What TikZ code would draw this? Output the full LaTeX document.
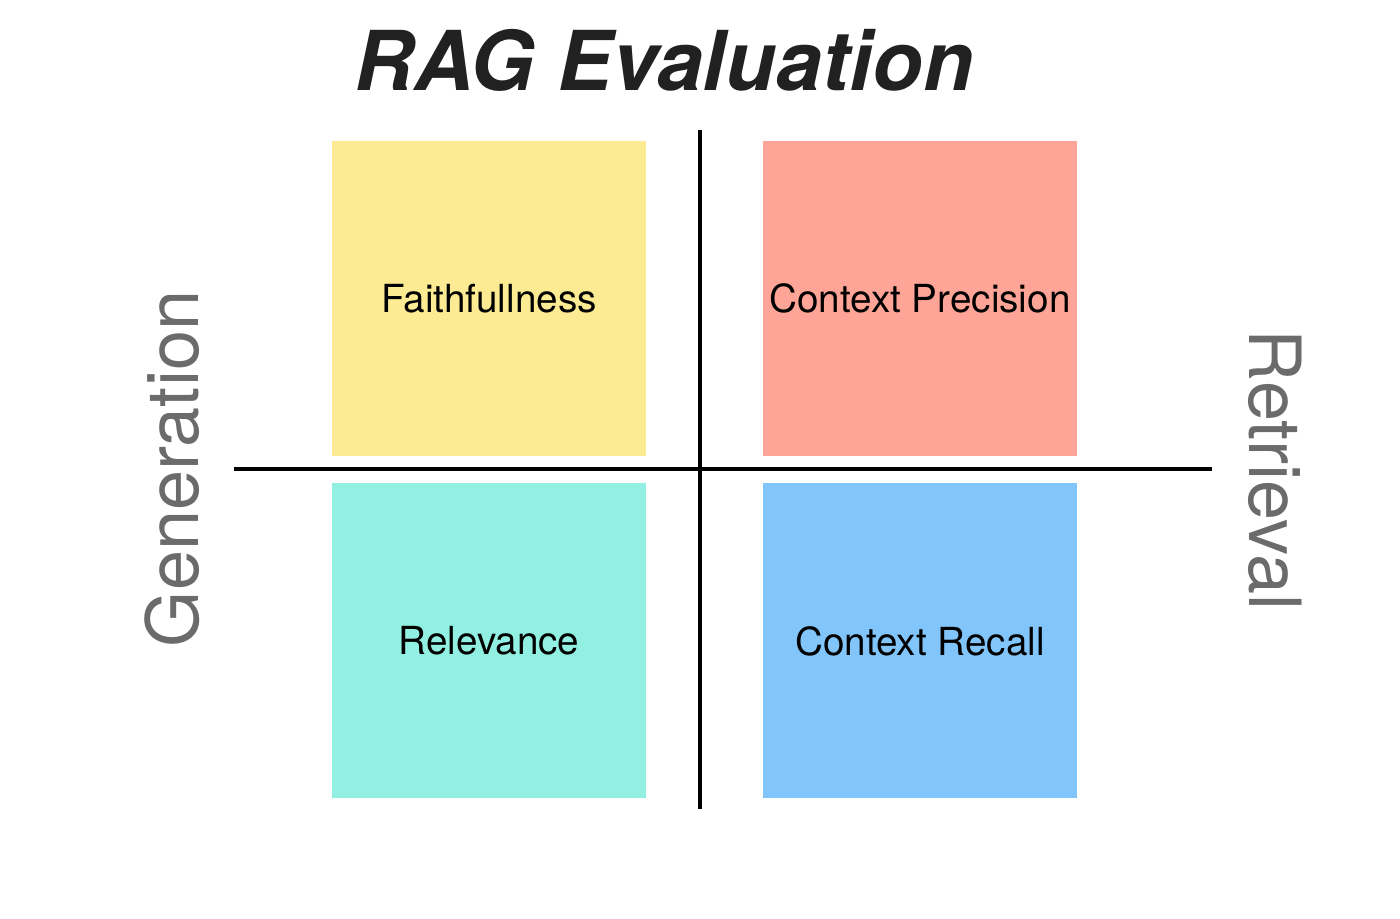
\documentclass[tikz,border=0pt]{standalone}
\usepackage{fontspec}
\setmainfont{TeX Gyre Heros}
\usetikzlibrary{calc}

\definecolor{faithyellow}{HTML}{FCEB93}
\definecolor{precsalmon}{HTML}{FFA597}
\definecolor{relteal}{HTML}{91F0E1}
\definecolor{recallblue}{HTML}{81C5FB}
\definecolor{axisgray}{HTML}{6B6B6B}

\begin{document}
\begin{tikzpicture}[
    quad/.style={minimum width=3.14cm, minimum height=3.15cm, inner sep=0pt,
      font=\fontsize{11}{13}\selectfont},
    axislabel/.style={text=axisgray, inner sep=0pt, font=\fontsize{20.5}{24}\selectfont}]
  \useasboundingbox (0,0) rectangle (14,9.19);
  \coordinate (T) at (7.00,7.89);
  \coordinate (B) at (7.00,1.10);
  \coordinate (L) at (2.34,4.50);
  \coordinate (R) at (12.12,4.50);
  \node[quad, fill=faithyellow] (faith) at (4.89,6.205) {Faithfullness};
  \node[quad, fill=precsalmon] (prec) at (9.20,6.205) {Context Precision};
  \node[quad, fill=relteal] (rel) at (4.89,2.78) {Relevance};
  \node[quad, fill=recallblue] (recall) at (9.20,2.78) {Context Recall};
  \draw[line width=1.4pt] (T) -- (B);
  \draw[line width=1.4pt] (L) -- (R);
  \node[inner sep=0pt, text=black!87, font=\fontsize{23.5}{27}\selectfont\bfseries\itshape]
    (title) at (6.64,8.59) {RAG Evaluation};
  \node[axislabel, rotate=90] (gen) at (1.72,4.50) {Generation};
  \node[axislabel, rotate=-90] (retr) at (12.75,4.49) {Retrieval};
\end{tikzpicture}
\end{document}
